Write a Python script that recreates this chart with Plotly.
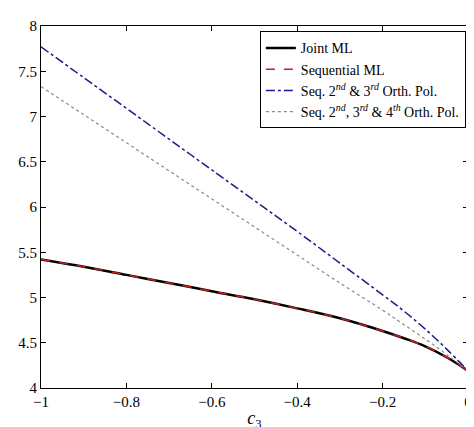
import plotly.graph_objects as go

c3 = [-1.0, -0.9, -0.8, -0.7, -0.6, -0.5, -0.4, -0.3, -0.2, -0.15, -0.1, -0.05, 0.0]
joint_ml = [5.42, 5.34, 5.25, 5.16, 5.07, 4.98, 4.88, 4.77, 4.63, 4.55, 4.46, 4.34, 4.19]
seq_ml = [5.42, 5.34, 5.25, 5.16, 5.07, 4.98, 4.88, 4.77, 4.63, 4.55, 4.46, 4.34, 4.19]
seq_23 = [7.77, 7.43, 7.09, 6.75, 6.41, 6.07, 5.73, 5.38, 5.03, 4.85, 4.65, 4.43, 4.19]
seq_234 = [7.33, 7.02, 6.71, 6.40, 6.09, 5.78, 5.47, 5.16, 4.86, 4.70, 4.54, 4.37, 4.19]

fig = go.Figure()
fig.add_trace(go.Scatter(x=c3, y=joint_ml, mode="lines", name="Joint ML",
                         line=dict(color="black", width=2.5, shape="spline")))
fig.add_trace(go.Scatter(x=c3, y=seq_ml, mode="lines", name="Sequential ML",
                         line=dict(color="#c02020", width=1.5, dash="dash", shape="spline")))
fig.add_trace(go.Scatter(x=c3, y=seq_23, mode="lines",
                         name="Seq. 2<sup><i>nd</i></sup> & 3<sup><i>rd</i></sup> Orth. Pol.",
                         line=dict(color="#1a1a8c", width=1.5, dash="dashdot", shape="spline")))
fig.add_trace(go.Scatter(x=c3, y=seq_234, mode="lines",
                         name="Seq. 2<sup><i>nd</i></sup>, 3<sup><i>rd</i></sup> & 4<sup><i>th</i></sup> Orth. Pol.",
                         line=dict(color="#888888", width=1.2, dash="dot", shape="spline")))

axis = dict(showgrid=False, zeroline=False, showline=True, mirror="ticks",
            linecolor="black", linewidth=1, ticks="inside", ticklen=5,
            tickcolor="black")
fig.update_xaxes(range=[-1, 0], dtick=0.2,
                 title=dict(text="<i>c</i><sub>3</sub>", standoff=2), **axis)
fig.update_yaxes(range=[4, 8], dtick=0.5, **axis)
fig.update_layout(
    width=474, height=427,
    margin=dict(l=30, r=10, t=10, b=44),
    plot_bgcolor="white", paper_bgcolor="white",
    font=dict(family="Liberation Serif", size=15, color="black"),
    showlegend=True,
    legend=dict(x=0.995, y=0.985, xanchor="right", yanchor="top",
                bordercolor="black", borderwidth=1, bgcolor="white",
                font=dict(size=14), tracegroupgap=0, itemwidth=30),
)
fig.write_html("out.html")
